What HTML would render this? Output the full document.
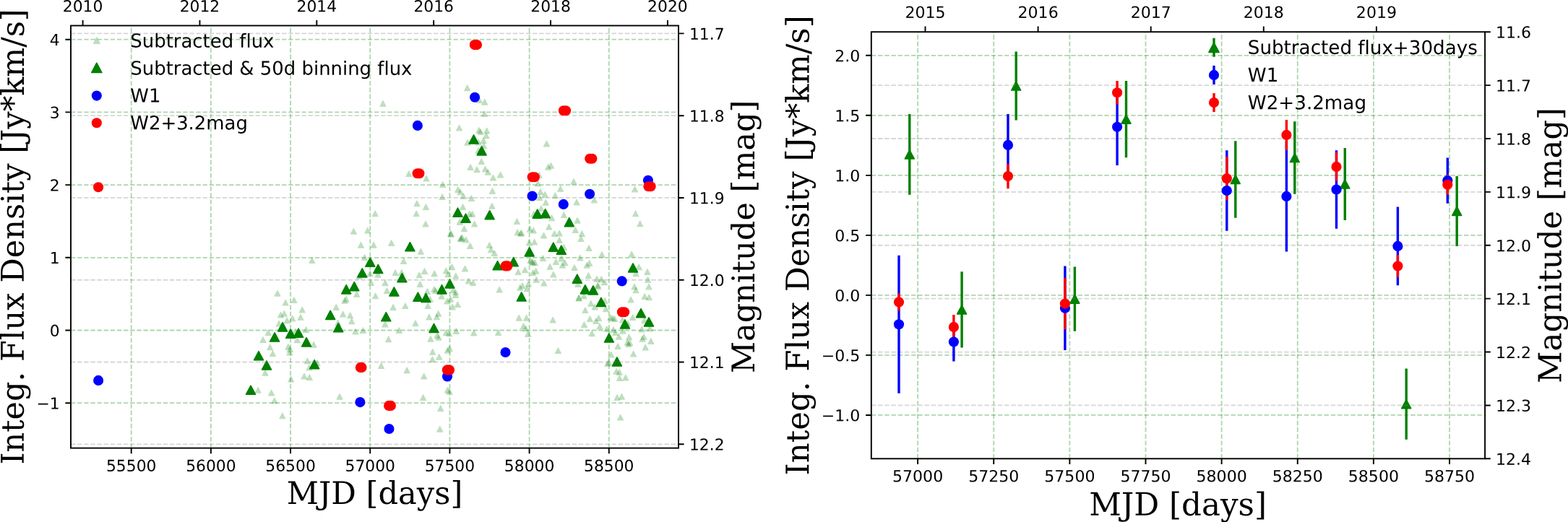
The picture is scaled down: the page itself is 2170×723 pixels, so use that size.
<!DOCTYPE html>
<html lang="en"><head><meta charset="utf-8"><title>Integrated flux density and WISE magnitude light curves</title>
<style>html,body{margin:0;padding:0;background:#fff;overflow:hidden}svg{display:block}text{white-space:pre;text-rendering:geometricPrecision;font-variant-ligatures:none;font-feature-settings:"liga" 0,"clig" 0}</style></head>
<body><svg width="2170" height="723" viewBox="0 0 2170 723">
<rect width="2170" height="723" fill="#fff"/>
<g class="panel" id="left">
<path class="grid-x" d="M181.7 620.6V35.5M291.88 620.6V35.5M402.06 620.6V35.5M512.24 620.6V35.5M622.42 620.6V35.5M732.6 620.6V35.5M842.78 620.6V35.5" fill="none" stroke-width="1.8" stroke-dasharray="6.373 2.756" stroke="#008000" stroke-opacity="0.32"/>
<path class="grid-y" d="M98 54.7H939M98 155.4H939M98 256.1H939M98 356.8H939M98 457.5H939M98 558.2H939" fill="none" stroke-width="1.8" stroke-dasharray="6.373 2.756" stroke="#008000" stroke-opacity="0.32"/>
<g class="flux" fill="#008000" stroke="#008000" stroke-width="1.2" stroke-linejoin="round"><path d="M499.5 335.6L503.45 343.2H495.55Z" opacity="0.25"/><path d="M517.1 335.6L521.05 343.2H513.15Z" opacity="0.25"/><path d="M541.7 332.8L545.65 340.4H537.75Z" opacity="0.25"/><path d="M582.4 344.6L586.35 352.2H578.45Z" opacity="0.25"/><path d="M504.6 352.7L508.55 360.3H500.65Z" opacity="0.25"/><path d="M431.8 356.9L435.75 364.5H427.85Z" opacity="0.25"/><path d="M558.6 357.7L562.55 365.3H554.65Z" opacity="0.25"/><path d="M587.6 371.8L591.55 379.4H583.65Z" opacity="0.25"/><path d="M547.1 373.9L551.05 381.5H543.15Z" opacity="0.25"/><path d="M555.8 373.6L559.75 381.2H551.85Z" opacity="0.25"/><path d="M580.3 377.1L584.25 384.7H576.35Z" opacity="0.25"/><path d="M601.2 375L605.15 382.6H597.25Z" opacity="0.25"/><path d="M617.4 371.1L621.35 378.7H613.45Z" opacity="0.25"/><path d="M512 375L515.95 382.6H508.05Z" opacity="0.25"/><path d="M523 376.6L526.95 384.2H519.05Z" opacity="0.25"/><path d="M497 378.7L500.95 386.3H493.05Z" opacity="0.25"/><path d="M513.6 387.7L517.55 395.3H509.65Z" opacity="0.25"/><path d="M533 388L536.95 395.6H529.05Z" opacity="0.25"/><path d="M581.4 389.8L585.35 397.4H577.45Z" opacity="0.25"/><path d="M535.5 398.8L539.45 406.4H531.55Z" opacity="0.25"/><path d="M591.4 399.7L595.35 407.3H587.45Z" opacity="0.25"/><path d="M600.8 396.8L604.75 404.4H596.85Z" opacity="0.25"/><path d="M602.8 398.9L606.75 406.5H598.85Z" opacity="0.25"/><path d="M493.6 403.6L497.55 411.2H489.65Z" opacity="0.25"/><path d="M519.6 406.1L523.55 413.7H515.65Z" opacity="0.25"/><path d="M384 402.5L387.95 410.1H380.05Z" opacity="0.25"/><path d="M479.1 410.5L483.05 418.1H475.15Z" opacity="0.25"/><path d="M477 412.6L480.95 420.2H473.05Z" opacity="0.25"/><path d="M406.9 411.9L410.85 419.5H402.95Z" opacity="0.25"/><path d="M395.1 415.4L399.05 423H391.15Z" opacity="0.25"/><path d="M611.1 406.4L615.05 414H607.15Z" opacity="0.25"/><path d="M595.2 410.5L599.15 418.1H591.25Z" opacity="0.25"/><path d="M618.8 413.3L622.75 420.9H614.85Z" opacity="0.25"/><path d="M465.2 421.7L469.15 429.3H461.25Z" opacity="0.25"/><path d="M544.1 421.7L548.05 429.3H540.15Z" opacity="0.25"/><path d="M560.9 419.9L564.85 427.5H556.95Z" opacity="0.25"/><path d="M592.2 419.9L596.15 427.5H588.25Z" opacity="0.25"/><path d="M418.2 425.2L422.15 432.8H414.25Z" opacity="0.25"/><path d="M388.5 432.4L392.45 440H384.55Z" opacity="0.25"/><path d="M393.3 430.6L397.25 438.2H389.35Z" opacity="0.25"/><path d="M474.6 431.4L478.55 439H470.65Z" opacity="0.25"/><path d="M484.6 433.1L488.55 440.7H480.65Z" opacity="0.25"/><path d="M606.7 430.6L610.65 438.2H602.75Z" opacity="0.25"/><path d="M604.5 435.1L608.45 442.7H600.55Z" opacity="0.25"/><path d="M593.9 435.4L597.85 443H589.95Z" opacity="0.25"/><path d="M415.9 435.6L419.85 443.2H411.95Z" opacity="0.25"/><path d="M404.8 437.2L408.75 444.8H400.85Z" opacity="0.25"/><path d="M397.2 440L401.15 447.6H393.25Z" opacity="0.25"/><path d="M486.7 441.1L490.65 448.7H482.75Z" opacity="0.25"/><path d="M386.1 444.4L390.05 452H382.15Z" opacity="0.25"/><path d="M467.7 443.4L471.65 451H463.75Z" opacity="0.25"/><path d="M574.9 443.9L578.85 451.5H570.95Z" opacity="0.25"/><path d="M533 445.2L536.95 452.8H529.05Z" opacity="0.25"/><path d="M423.5 452.7L427.45 460.3H419.55Z" opacity="0.25"/><path d="M408.5 455.2L412.45 462.8H404.55Z" opacity="0.25"/><path d="M491.9 455.2L495.85 462.8H487.95Z" opacity="0.25"/><path d="M502.3 453.8L506.25 461.4H498.35Z" opacity="0.25"/><path d="M552.4 453.8L556.35 461.4H548.45Z" opacity="0.25"/><path d="M371.2 456.9L375.15 464.5H367.25Z" opacity="0.25"/><path d="M617.4 456.9L621.35 464.5H613.45Z" opacity="0.25"/><path d="M604.9 460.7L608.85 468.3H600.95Z" opacity="0.25"/><path d="M607 463.5L610.95 471.1H603.05Z" opacity="0.25"/><path d="M595.9 465.6L599.85 473.2H591.95Z" opacity="0.25"/><path d="M364 466.7L367.95 474.3H360.05Z" opacity="0.25"/><path d="M411.3 467L415.25 474.6H407.35Z" opacity="0.25"/><path d="M537.6 466L541.55 473.6H533.65Z" opacity="0.25"/><path d="M434.1 473.5L438.05 481.1H430.15Z" opacity="0.25"/><path d="M373.7 477.1L377.65 484.7H369.75Z" opacity="0.25"/><path d="M398.8 476.6L402.75 484.2H394.85Z" opacity="0.25"/><path d="M401.3 479.8L405.25 487.4H397.35Z" opacity="0.25"/><path d="M400.9 484.2L404.85 491.8H396.95Z" opacity="0.25"/><path d="M377.4 485.9L381.35 493.5H373.45Z" opacity="0.25"/><path d="M598.7 483.6L602.65 491.2H594.75Z" opacity="0.25"/><path d="M619.4 481.5L623.35 489.1H615.45Z" opacity="0.25"/><path d="M607.7 490.5L611.65 498.1H603.75Z" opacity="0.25"/><path d="M598.4 493.9L602.35 501.5H594.45Z" opacity="0.25"/><path d="M425.5 496L429.45 503.6H421.55Z" opacity="0.25"/><path d="M438.9 498.8L442.85 506.4H434.95Z" opacity="0.25"/><path d="M427.9 505.3L431.85 512.9H423.95Z" opacity="0.25"/><path d="M527.5 502.9L531.45 510.5H523.55Z" opacity="0.25"/><path d="M367 512.6L370.95 520.2H363.05Z" opacity="0.25"/><path d="M563.2 509.1L567.15 516.7H559.25Z" opacity="0.25"/><path d="M421 517.4L424.95 525H417.05Z" opacity="0.25"/><path d="M428.3 518.8L432.25 526.4H424.35Z" opacity="0.25"/><path d="M586.7 517.4L590.65 525H582.75Z" opacity="0.25"/><path d="M402.7 521.3L406.65 528.9H398.75Z" opacity="0.25"/><path d="M357.1 536.5L361.05 544.1H353.15Z" opacity="0.25"/><path d="M375.6 540.3L379.55 547.9H371.65Z" opacity="0.25"/><path d="M379.8 551.1L383.75 558.7H375.85Z" opacity="0.25"/><path d="M470.1 545.5L474.05 553.1H466.15Z" opacity="0.25"/><path d="M390.8 572.1L394.75 579.7H386.85Z" opacity="0.25"/><path d="M585.6 546.9L589.55 554.5H581.65Z" opacity="0.25"/><path d="M609.8 561.7L613.75 569.3H605.85Z" opacity="0.25"/><path d="M608.8 590.5L612.75 598.1H604.85Z" opacity="0.25"/><path d="M619.4 536.5L623.35 544.1H615.45Z" opacity="0.25"/><path d="M565.8 236.9L569.75 244.5H561.85Z" opacity="0.25"/><path d="M590 243.4L593.95 251H586.05Z" opacity="0.25"/><path d="M612.8 251.7L616.75 259.3H608.85Z" opacity="0.25"/><path d="M612.1 268.8L616.05 276.4H608.15Z" opacity="0.25"/><path d="M577 278L580.95 285.6H573.05Z" opacity="0.25"/><path d="M589.4 282.9L593.35 290.5H585.45Z" opacity="0.25"/><path d="M576.2 292.1L580.15 299.7H572.25Z" opacity="0.25"/><path d="M519.2 292.1L523.15 299.7H515.25Z" opacity="0.25"/><path d="M589 306.4L592.95 314H585.05Z" opacity="0.25"/><path d="M489.4 316.5L493.35 324.1H485.45Z" opacity="0.25"/><path d="M508.8 315.4L512.75 323H504.85Z" opacity="0.25"/><path d="M530 139.6L533.95 147.2H526.05Z" opacity="0.25"/><path d="M646.7 118L650.65 125.6H642.75Z" opacity="0.25"/><path d="M670.8 137.5L674.75 145.1H666.85Z" opacity="0.25"/><path d="M663.2 134.9L667.15 142.5H659.25Z" opacity="0.25"/><path d="M670.5 153.8L674.45 161.4H666.55Z" opacity="0.25"/><path d="M635.5 173.2L639.45 180.8H631.55Z" opacity="0.25"/><path d="M662.9 176.6L666.85 184.2H658.95Z" opacity="0.25"/><path d="M665 178.7L668.95 186.3H661.05Z" opacity="0.25"/><path d="M673.7 177.3L677.65 184.9H669.75Z" opacity="0.25"/><path d="M673 184L676.95 191.6H669.05Z" opacity="0.25"/><path d="M669.1 190.9L673.05 198.5H665.15Z" opacity="0.25"/><path d="M647 193.5L650.95 201.1H643.05Z" opacity="0.25"/><path d="M662.2 193.2L666.15 200.8H658.25Z" opacity="0.25"/><path d="M669.5 198.1L673.45 205.7H665.55Z" opacity="0.25"/><path d="M662.2 204.7L666.15 212.3H658.25Z" opacity="0.25"/><path d="M756.5 195.3L760.45 202.9H752.55Z" opacity="0.25"/><path d="M666.3 219.7L670.25 227.3H662.35Z" opacity="0.25"/><path d="M651.1 227.8L655.05 235.4H647.15Z" opacity="0.25"/><path d="M660.1 231L664.05 238.6H656.15Z" opacity="0.25"/><path d="M671.5 230.3L675.45 237.9H667.55Z" opacity="0.25"/><path d="M675.3 234.5L679.25 242.1H671.35Z" opacity="0.25"/><path d="M682.5 242.3L686.45 249.9H678.55Z" opacity="0.25"/><path d="M692.6 238.2L696.55 245.8H688.65Z" opacity="0.25"/><path d="M758.7 227.5L762.65 235.1H754.75Z" opacity="0.25"/><path d="M762.5 225.5L766.45 233.1H758.55Z" opacity="0.25"/><path d="M746.1 238.6L750.05 246.2H742.15Z" opacity="0.25"/><path d="M744.5 250.4L748.45 258H740.55Z" opacity="0.25"/><path d="M794 247.6L797.95 255.2H790.05Z" opacity="0.25"/><path d="M633.8 258.7L637.75 266.3H629.85Z" opacity="0.25"/><path d="M636.9 262.1L640.85 269.7H632.95Z" opacity="0.25"/><path d="M641.4 267.7L645.35 275.3H637.45Z" opacity="0.25"/><path d="M652.5 270.7L656.45 278.3H648.55Z" opacity="0.25"/><path d="M681.5 260.7L685.45 268.3H677.55Z" opacity="0.25"/><path d="M775.6 257.6L779.55 265.2H771.65Z" opacity="0.25"/><path d="M747.9 261.7L751.85 269.3H743.95Z" opacity="0.25"/><path d="M754.2 265.6L758.15 273.2H750.25Z" opacity="0.25"/><path d="M768.3 267L772.25 274.6H764.35Z" opacity="0.25"/><path d="M746.6 269.7L750.55 277.3H742.65Z" opacity="0.25"/><path d="M878.6 258.2L882.55 265.8H874.65Z" opacity="0.25"/><path d="M755.3 276.6L759.25 284.2H751.35Z" opacity="0.25"/><path d="M798.1 276.2L802.05 283.8H794.15Z" opacity="0.25"/><path d="M822.4 273.2L826.35 280.8H818.45Z" opacity="0.25"/><path d="M640.5 282.9L644.45 290.5H636.55Z" opacity="0.25"/><path d="M680.9 281.5L684.85 289.1H676.95Z" opacity="0.25"/><path d="M748.9 284.9L752.85 292.5H744.95Z" opacity="0.25"/><path d="M649.7 292.3L653.65 299.9H645.75Z" opacity="0.25"/><path d="M653.6 292.5L657.55 300.1H649.65Z" opacity="0.25"/><path d="M738.9 292.5L742.85 300.1H734.95Z" opacity="0.25"/><path d="M780.4 293.9L784.35 301.5H776.45Z" opacity="0.25"/><path d="M879.6 292.1L883.55 299.7H875.65Z" opacity="0.25"/><path d="M763.6 298.1L767.55 305.7H759.65Z" opacity="0.25"/><path d="M715.4 302.9L719.35 310.5H711.45Z" opacity="0.25"/><path d="M799.1 301.5L803.05 309.1H795.15Z" opacity="0.25"/><path d="M636.3 303.6L640.25 311.2H632.35Z" opacity="0.25"/><path d="M656.7 306.4L660.65 314H652.75Z" opacity="0.25"/><path d="M885.8 306.1L889.75 313.7H881.85Z" opacity="0.25"/><path d="M759.7 310.3L763.65 317.9H755.75Z" opacity="0.25"/><path d="M642.4 313L646.35 320.6H638.45Z" opacity="0.25"/><path d="M733.4 313.6L737.35 321.2H729.45Z" opacity="0.25"/><path d="M738.3 315.4L742.25 323H734.35Z" opacity="0.25"/><path d="M796.3 314.7L800.25 322.3H792.35Z" opacity="0.25"/><path d="M716.1 318.1L720.05 325.7H712.15Z" opacity="0.25"/><path d="M721.7 318.8L725.65 326.4H717.75Z" opacity="0.25"/><path d="M624.1 320.6L628.05 328.2H620.15Z" opacity="0.25"/><path d="M639.4 325.1L643.35 332.7H635.45Z" opacity="0.25"/><path d="M637.3 327L641.25 334.6H633.35Z" opacity="0.25"/><path d="M644.9 328.2L648.85 335.8H640.95Z" opacity="0.25"/><path d="M650.7 336.8L654.65 344.4H646.75Z" opacity="0.25"/><path d="M677.4 335.8L681.35 343.4H673.45Z" opacity="0.25"/><path d="M679.5 342.1L683.45 349.7H675.55Z" opacity="0.25"/><path d="M684.3 346.9L688.25 354.5H680.35Z" opacity="0.25"/><path d="M752.5 322.3L756.45 329.9H748.55Z" opacity="0.25"/><path d="M767.3 319.9L771.25 327.5H763.35Z" opacity="0.25"/><path d="M774.2 319.2L778.15 326.8H770.25Z" opacity="0.25"/><path d="M805.3 319.9L809.25 327.5H801.35Z" opacity="0.25"/><path d="M804 326.9L807.95 334.5H800.05Z" opacity="0.25"/><path d="M774.2 328.9L778.15 336.5H770.25Z" opacity="0.25"/><path d="M732.3 332.4L736.25 340H728.35Z" opacity="0.25"/><path d="M739.6 331.4L743.55 339H735.65Z" opacity="0.25"/><path d="M780.4 338.6L784.35 346.2H776.45Z" opacity="0.25"/><path d="M815 339.7L818.95 347.3H811.05Z" opacity="0.25"/><path d="M833 348.7L836.95 356.3H829.05Z" opacity="0.25"/><path d="M874.2 348.3L878.15 355.9H870.25Z" opacity="0.25"/><path d="M751.4 353.8L755.35 361.4H747.45Z" opacity="0.25"/><path d="M802.8 353.4L806.75 361H798.85Z" opacity="0.25"/><path d="M777 354.2L780.95 361.8H773.05Z" opacity="0.25"/><path d="M769.4 358.7L773.35 366.3H765.45Z" opacity="0.25"/><path d="M734.1 357L738.05 364.6H730.15Z" opacity="0.25"/><path d="M737.6 359.4L741.55 367H733.65Z" opacity="0.25"/><path d="M740.3 360L744.25 367.6H736.35Z" opacity="0.25"/><path d="M781.8 360L785.75 367.6H777.85Z" opacity="0.25"/><path d="M778.4 363.5L782.35 371.1H774.45Z" opacity="0.25"/><path d="M815.7 360.7L819.65 368.3H811.75Z" opacity="0.25"/><path d="M812.3 363.5L816.25 371.1H808.35Z" opacity="0.25"/><path d="M761.1 365.6L765.05 373.2H757.15Z" opacity="0.25"/><path d="M795 366.7L798.95 374.3H791.05Z" opacity="0.25"/><path d="M625.5 366L629.45 373.6H621.55Z" opacity="0.25"/><path d="M643.5 368.3L647.45 375.9H639.55Z" opacity="0.25"/><path d="M726.5 370L730.45 377.6H722.55Z" opacity="0.25"/><path d="M717.1 372.9L721.05 380.5H713.15Z" opacity="0.25"/><path d="M741.7 371.5L745.65 379.1H737.75Z" opacity="0.25"/><path d="M737.6 373.9L741.55 381.5H733.65Z" opacity="0.25"/><path d="M765.9 376.2L769.85 383.8H761.95Z" opacity="0.25"/><path d="M884.2 366L888.15 373.6H880.25Z" opacity="0.25"/><path d="M895.9 372.9L899.85 380.5H891.95Z" opacity="0.25"/><path d="M880 375L883.95 382.6H876.05Z" opacity="0.25"/><path d="M814.3 377.7L818.25 385.3H810.35Z" opacity="0.25"/><path d="M630.8 378.4L634.75 386H626.85Z" opacity="0.25"/><path d="M620 376L623.95 383.6H616.05Z" opacity="0.25"/><path d="M742.4 383.6L746.35 391.2H738.45Z" opacity="0.25"/><path d="M826.1 382.6L830.05 390.2H822.15Z" opacity="0.25"/><path d="M832.3 382.9L836.25 390.5H828.35Z" opacity="0.25"/><path d="M896.6 383.6L900.55 391.2H892.65Z" opacity="0.25"/><path d="M836.5 387L840.45 394.6H832.55Z" opacity="0.25"/><path d="M648.4 385.2L652.35 392.8H644.45Z" opacity="0.25"/><path d="M654.6 387.7L658.55 395.3H650.65Z" opacity="0.25"/><path d="M752.8 388.4L756.75 396H748.85Z" opacity="0.25"/><path d="M731.3 389.4L735.25 397H727.35Z" opacity="0.25"/><path d="M723 391.9L726.95 399.5H719.05Z" opacity="0.25"/><path d="M719.6 394.6L723.55 402.2H715.65Z" opacity="0.25"/><path d="M729.3 396L733.25 403.6H725.35Z" opacity="0.25"/><path d="M827.5 391.2L831.45 398.8H823.55Z" opacity="0.25"/><path d="M799.8 389.8L803.75 397.4H795.85Z" opacity="0.25"/><path d="M878 393.2L881.95 400.8H874.05Z" opacity="0.25"/><path d="M898 393.2L901.95 400.8H894.05Z" opacity="0.25"/><path d="M880 398.1L883.95 405.7H876.05Z" opacity="0.25"/><path d="M691.2 397.4L695.15 405H687.25Z" opacity="0.25"/><path d="M630.4 400.8L634.35 408.4H626.45Z" opacity="0.25"/><path d="M626.9 398.1L630.85 405.7H622.95Z" opacity="0.25"/><path d="M630.4 404.7L634.35 412.3H626.45Z" opacity="0.25"/><path d="M623.5 410.5L627.45 418.1H619.55Z" opacity="0.25"/><path d="M801.2 408.5L805.15 416.1H797.25Z" opacity="0.25"/><path d="M808.1 406.1L812.05 413.7H804.15Z" opacity="0.25"/><path d="M837.2 412.6L841.15 420.2H833.25Z" opacity="0.25"/><path d="M873.1 411.2L877.05 418.8H869.15Z" opacity="0.25"/><path d="M892.2 406.7L896.15 414.3H888.25Z" opacity="0.25"/><path d="M898.3 408L902.25 415.6H894.35Z" opacity="0.25"/><path d="M626.2 421.3L630.15 428.9H622.25Z" opacity="0.25"/><path d="M633.4 417.9L637.35 425.5H629.45Z" opacity="0.25"/><path d="M718.2 436.5L722.15 444.1H714.25Z" opacity="0.25"/><path d="M728.6 436.5L732.55 444.1H724.65Z" opacity="0.25"/><path d="M724.4 447.9L728.35 455.5H720.45Z" opacity="0.25"/><path d="M727.6 451.1L731.55 458.7H723.65Z" opacity="0.25"/><path d="M730.7 458.7L734.65 466.3H726.75Z" opacity="0.25"/><path d="M631.3 454.8L635.25 462.4H627.35Z" opacity="0.25"/><path d="M655.7 457.3L659.65 464.9H651.75Z" opacity="0.25"/><path d="M689.6 456.9L693.55 464.5H685.65Z" opacity="0.25"/><path d="M621.4 458L625.35 465.6H617.45Z" opacity="0.25"/><path d="M622.1 478.7L626.05 486.3H618.15Z" opacity="0.25"/><path d="M765.2 439.3L769.15 446.9H761.25Z" opacity="0.25"/><path d="M772.4 481.8L776.35 489.4H768.45Z" opacity="0.25"/><path d="M809.9 425.9L813.85 433.5H805.95Z" opacity="0.25"/><path d="M823.3 421.3L827.25 428.9H819.35Z" opacity="0.25"/><path d="M817.8 416.5L821.75 424.1H813.85Z" opacity="0.25"/><path d="M838.5 424.1L842.45 431.7H834.55Z" opacity="0.25"/><path d="M816.4 437.9L820.35 445.5H812.45Z" opacity="0.25"/><path d="M828.6 436.8L832.55 444.4H824.65Z" opacity="0.25"/><path d="M824.7 440.7L828.65 448.3H820.75Z" opacity="0.25"/><path d="M808.5 445.8L812.45 453.4H804.55Z" opacity="0.25"/><path d="M830 448.3L833.95 455.9H826.05Z" opacity="0.25"/><path d="M839.9 451.7L843.85 459.3H835.95Z" opacity="0.25"/><path d="M819.2 458L823.15 465.6H815.25Z" opacity="0.25"/><path d="M844.8 435.8L848.75 443.4H840.85Z" opacity="0.25"/><path d="M847.9 436.9L851.85 444.5H843.95Z" opacity="0.25"/><path d="M850.7 437.9L854.65 445.5H846.75Z" opacity="0.25"/><path d="M861.4 439.3L865.35 446.9H857.45Z" opacity="0.25"/><path d="M875.6 435.8L879.55 443.4H871.65Z" opacity="0.25"/><path d="M869 444.1L872.95 451.7H865.05Z" opacity="0.25"/><path d="M848.9 452.7L852.85 460.3H844.95Z" opacity="0.25"/><path d="M851.7 456.9L855.65 464.5H847.75Z" opacity="0.25"/><path d="M856.5 462.5L860.45 470.1H852.55Z" opacity="0.25"/><path d="M862 454.5L865.95 462.1H858.05Z" opacity="0.25"/><path d="M870.6 463.1L874.55 470.7H866.65Z" opacity="0.25"/><path d="M888.3 452.2L892.25 459.8H884.35Z" opacity="0.25"/><path d="M899.4 451.1L903.35 458.7H895.45Z" opacity="0.25"/><path d="M891.8 439.7L895.75 447.3H887.85Z" opacity="0.25"/><path d="M891.1 462.8L895.05 470.4H887.15Z" opacity="0.25"/><path d="M889 465.6L892.95 473.2H885.05Z" opacity="0.25"/><path d="M900.8 468.8L904.75 476.4H896.85Z" opacity="0.25"/><path d="M868.3 470.4L872.25 478H864.35Z" opacity="0.25"/><path d="M871.7 471.1L875.65 478.7H867.75Z" opacity="0.25"/><path d="M869.7 472.9L873.65 480.5H865.75Z" opacity="0.25"/><path d="M855.1 475.7L859.05 483.3H851.15Z" opacity="0.25"/><path d="M893.2 477.3L897.15 484.9H889.25Z" opacity="0.25"/><path d="M845.7 487.3L849.65 494.9H841.75Z" opacity="0.25"/><path d="M876.6 486.3L880.55 493.9H872.65Z" opacity="0.25"/><path d="M842.7 498.1L846.65 505.7H838.75Z" opacity="0.25"/><path d="M841 499.9L844.95 507.5H837.05Z" opacity="0.25"/><path d="M853.1 510.5L857.05 518.1H849.15Z" opacity="0.25"/><path d="M857.2 511.6L861.15 519.2H853.25Z" opacity="0.25"/><path d="M857.5 519.9L861.45 527.5H853.55Z" opacity="0.25"/><path d="M865.8 519.2L869.75 526.8H861.85Z" opacity="0.25"/><path d="M854 546.9L857.95 554.5H850.05Z" opacity="0.25"/><path d="M860.4 545.5L864.35 553.1H856.45Z" opacity="0.25"/><path d="M858.6 574.2L862.55 581.8H854.65Z" opacity="0.25"/><path d="M622.1 538.6L626.05 546.2H618.15Z" opacity="0.25"/><path d="M827.3 393L831.25 400.6H823.35Z" opacity="0.25"/><path d="M801.1 409.4L805.05 417H797.15Z" opacity="0.25"/><path d="M623.7 319.5L627.65 327.1H619.75Z" opacity="0.25"/><path d="M638.6 326.2L642.55 333.8H634.65Z" opacity="0.25"/><path d="M720.4 319.5L724.35 327.1H716.45Z" opacity="0.25"/><path d="M736.1 359.3L740.05 366.9H732.15Z" opacity="0.25"/></g>
<path class="binned" d="M347 534.15L353.45 546.25H340.55ZM358 486.55L364.45 498.65H351.55ZM369 499.85L375.45 511.95H362.55ZM380.1 460.85L386.55 472.95H373.65ZM391.1 446.75L397.55 458.85H384.65ZM402.1 456.15L408.55 468.25H395.65ZM413.1 455.05L419.55 467.15H406.65ZM424.1 467.75L430.55 479.85H417.65ZM435.2 498.55L441.65 510.65H428.75ZM457.2 430.25L463.65 442.35H450.75ZM468.2 447.65L474.65 459.75H461.75ZM479.2 394.75L485.65 406.85H472.75ZM490.3 390.55L496.75 402.65H483.85ZM501.3 371.85L507.75 383.95H494.85ZM512.3 357.15L518.75 369.25H505.85ZM523.3 366.35L529.75 378.45H516.85ZM534.3 432.65L540.75 444.75H527.85ZM545.4 397.85L551.85 409.95H538.95ZM556.4 378.55L562.85 390.65H549.95ZM567.4 335.65L573.85 347.75H560.95ZM578.4 405.05L584.85 417.15H571.95ZM589.4 406.45L595.85 418.55H582.95ZM600.5 448.35L606.95 460.45H594.05ZM611.5 394.75L617.95 406.85H605.05ZM622.5 386.95L628.95 399.05H616.05ZM633.5 288.05L639.95 300.15H627.05ZM644.5 296.15L650.95 308.25H638.05ZM655.6 186.85L662.05 198.95H649.15ZM666.6 202.75L673.05 214.85H660.15ZM677.6 291.65L684.05 303.75H671.15ZM688.6 361.65L695.05 373.75H682.15ZM710.7 356.55L717.15 368.65H704.25ZM721.7 404.95L728.15 417.05H715.25ZM732.7 342.75L739.15 354.85H726.25ZM743.7 290.05L750.15 302.15H737.25ZM754.7 289.65L761.15 301.75H748.25ZM765.8 336.05L772.25 348.15H759.35ZM776.8 340.05L783.25 352.15H770.35ZM787.8 301.65L794.25 313.75H781.35ZM798.8 380.05L805.25 392.15H792.35ZM809.8 394.75L816.25 406.85H803.35ZM820.9 395.85L827.35 407.95H814.45ZM831.9 412.35L838.35 424.45H825.45ZM842.9 461.95L849.35 474.05H836.45ZM853.9 494.85L860.35 506.95H847.45ZM864.9 442.85L871.35 454.95H858.45ZM876 364.85L882.45 376.95H869.55ZM887 427.65L893.45 439.75H880.55ZM898 439.85L904.45 451.95H891.55Z" fill="#008000" stroke="#008000" stroke-width="1.6" stroke-linejoin="round"/>
<path class="grid-mag" d="M98 46.4H939M98 160.18H939M98 273.96H939M98 387.74H939M98 501.52H939M98 615.3H939" fill="none" stroke-width="1.8" stroke-dasharray="6.373 2.756" stroke="#808080" stroke-opacity="0.32"/>
<g class="w1" fill="#0000ff"><circle cx="136.1" cy="526.9" r="7.05"/><circle cx="498.4" cy="557.1" r="7.05"/><circle cx="538.5" cy="594" r="7.05"/><circle cx="577.9" cy="173.9" r="7.05"/><circle cx="619" cy="521.5" r="7.05"/><circle cx="657.1" cy="134.8" r="7.05"/><circle cx="699.5" cy="488" r="7.05"/><circle cx="736.6" cy="271.5" r="7.05"/><circle cx="779.8" cy="282.9" r="7.05"/><circle cx="816.1" cy="268.7" r="7.05"/><circle cx="860.7" cy="389.4" r="7.05"/><circle cx="896.9" cy="249.7" r="7.05"/></g>
<g class="w2" fill="#ff0000"><circle cx="136.1" cy="259.2" r="7.05"/><circle cx="498.85" cy="508.9" r="7.05"/><circle cx="500.55" cy="508.9" r="7.05"/><circle cx="538.1" cy="561.9" r="7.05"/><circle cx="540.9" cy="561.9" r="7.05"/><circle cx="577.6" cy="240.3" r="7.05"/><circle cx="580.4" cy="240.3" r="7.05"/><circle cx="618.8" cy="512.4" r="7.05"/><circle cx="622" cy="512.4" r="7.05"/><circle cx="656.8" cy="62.1" r="7.05"/><circle cx="660" cy="62.1" r="7.05"/><circle cx="699.5" cy="368.4" r="7.05"/><circle cx="702.3" cy="368.4" r="7.05"/><circle cx="736.7" cy="245.2" r="7.05"/><circle cx="739.9" cy="245.2" r="7.05"/><circle cx="779.9" cy="153.2" r="7.05"/><circle cx="783.1" cy="153.2" r="7.05"/><circle cx="816.2" cy="219.8" r="7.05"/><circle cx="819.4" cy="219.8" r="7.05"/><circle cx="860.9" cy="432.2" r="7.05"/><circle cx="864.1" cy="432.2" r="7.05"/><circle cx="897.4" cy="258.3" r="7.05"/><circle cx="900.6" cy="258.3" r="7.05"/></g>
<rect x="98" y="35.5" width="841" height="585.1" fill="none" stroke="#000" stroke-width="1.9"/>
<path class="ticks" d="M181.7 620.6v7.6M291.88 620.6v7.6M402.06 620.6v7.6M512.24 620.6v7.6M622.42 620.6v7.6M732.6 620.6v7.6M842.78 620.6v7.6M114.6 35.5v-7.6M276.46 35.5v-7.6M438.32 35.5v-7.6M600.18 35.5v-7.6M762.04 35.5v-7.6M923.9 35.5v-7.6M98 54.7h-7.6M98 155.4h-7.6M98 256.1h-7.6M98 356.8h-7.6M98 457.5h-7.6M98 558.2h-7.6M939 46.4h7.6M939 160.18h7.6M939 273.96h7.6M939 387.74h7.6M939 501.52h7.6M939 615.3h7.6" stroke="#000" stroke-width="1.9" fill="none"/>
<g class="ticklabels" font-family='"DejaVu Sans", "Liberation Sans", sans-serif' font-size="21.85" fill="#000">
<text transform="translate(181.7 652.65) rotate(0.03)" text-anchor="middle">55500</text>
<text transform="translate(291.88 652.65) rotate(0.03)" text-anchor="middle">56000</text>
<text transform="translate(402.06 652.65) rotate(0.03)" text-anchor="middle">56500</text>
<text transform="translate(512.24 652.65) rotate(0.03)" text-anchor="middle">57000</text>
<text transform="translate(622.42 652.65) rotate(0.03)" text-anchor="middle">57500</text>
<text transform="translate(732.6 652.65) rotate(0.03)" text-anchor="middle">58000</text>
<text transform="translate(842.78 652.65) rotate(0.03)" text-anchor="middle">58500</text>
<text transform="translate(114.6 16.25) rotate(0.03)" text-anchor="middle">2010</text>
<text transform="translate(276.46 16.25) rotate(0.03)" text-anchor="middle">2012</text>
<text transform="translate(438.32 16.25) rotate(0.03)" text-anchor="middle">2014</text>
<text transform="translate(600.18 16.25) rotate(0.03)" text-anchor="middle">2016</text>
<text transform="translate(762.04 16.25) rotate(0.03)" text-anchor="middle">2018</text>
<text transform="translate(923.9 16.25) rotate(0.03)" text-anchor="middle">2020</text>
<text transform="translate(82.6 63) rotate(0.03)" text-anchor="end">4</text>
<text transform="translate(82.6 163.7) rotate(0.03)" text-anchor="end">3</text>
<text transform="translate(82.6 264.4) rotate(0.03)" text-anchor="end">2</text>
<text transform="translate(82.6 365.1) rotate(0.03)" text-anchor="end">1</text>
<text transform="translate(82.6 465.8) rotate(0.03)" text-anchor="end">0</text>
<text transform="translate(82.6 566.5) rotate(0.03)" text-anchor="end">−1</text>
<text transform="translate(953.9 54.7) rotate(0.03)" text-anchor="start">11.7</text>
<text transform="translate(953.9 168.48) rotate(0.03)" text-anchor="start">11.8</text>
<text transform="translate(953.9 282.26) rotate(0.03)" text-anchor="start">11.9</text>
<text transform="translate(953.9 396.04) rotate(0.03)" text-anchor="start">12.0</text>
<text transform="translate(953.9 509.82) rotate(0.03)" text-anchor="start">12.1</text>
<text transform="translate(953.9 623.6) rotate(0.03)" text-anchor="start">12.2</text>
</g>
<g class="axislabels" font-family='"DejaVu Serif", "Liberation Serif", serif' font-size="43.4" fill="#000" text-anchor="middle">
<text transform="translate(518.5 698) rotate(0.03) scale(0.995 1)">MJD [days]</text>
<text transform="translate(32.8 328) rotate(-89.97) scale(0.9927 1)">Integ. Flux Density [Jy*km/s]</text>
<text transform="translate(1044 327.9) rotate(-89.97) scale(0.9927 1)">Magnitude [mag]</text>
</g>
<g class="legend"><g fill="#008000" stroke="#008000" stroke-width="1.2" stroke-linejoin="round"><path d="M133.8 51.86L138.21 60.34H129.4Z" opacity="0.25"/></g>
<path d="M133.8 87.25L140.9 100.56H126.71Z" fill="#008000" stroke="#008000" stroke-width="1.6" stroke-linejoin="round"/>
<circle cx="133.8" cy="132.6" r="7.05" fill="#0000ff"/>
<circle cx="133.8" cy="170.3" r="7.05" fill="#ff0000"/>
<g font-family='"DejaVu Sans", "Liberation Sans", sans-serif' font-size="26.05" fill="#000">
<text transform="translate(180.3 65.6) rotate(0.03) scale(0.995 1)">Subtracted flux</text>
<text transform="translate(180.3 103.5) rotate(0.03) scale(0.995 1)">Subtracted &amp; 50d binning flux</text>
<text transform="translate(180.3 141.4) rotate(0.03) scale(0.995 1)">W1</text>
<text transform="translate(180.3 179.3) rotate(0.03) scale(0.995 1)">W2+3.2mag</text>
</g></g>
</g>
<g class="panel" id="right">
<path class="grid-x" d="M1270.1 635.3V44.2M1375.23 635.3V44.2M1480.36 635.3V44.2M1585.49 635.3V44.2M1690.62 635.3V44.2M1795.75 635.3V44.2M1900.88 635.3V44.2M2006.01 635.3V44.2" fill="none" stroke-width="1.82" stroke-dasharray="6.434 2.782" stroke="#008000" stroke-opacity="0.32"/>
<path class="grid-y" d="M1205.8 76.8H2055.1M1205.8 159.82H2055.1M1205.8 242.84H2055.1M1205.8 325.86H2055.1M1205.8 408.88H2055.1M1205.8 491.9H2055.1M1205.8 574.92H2055.1" fill="none" stroke-width="1.82" stroke-dasharray="6.434 2.782" stroke="#008000" stroke-opacity="0.32"/>
<g class="flux30"><path class="errorbars" d="M1258.8 158V269.8M1331.1 376.3V481.5M1406.2 71.4V166.6M1487.4 369.5V458.7M1558.5 112.1V218.3M1709.8 195.3V301.7M1791.8 168.2V268.8M1861.3 204.9V304.9M1946.2 510.5V608.7M2016.2 243.9V340.9" stroke="#008000" stroke-width="3.4" fill="none"/><path d="M1258.8 207.85L1265.25 219.95H1252.35ZM1331.1 422.85L1337.55 434.95H1324.65ZM1406.2 112.95L1412.65 125.05H1399.75ZM1487.4 408.05L1493.85 420.15H1480.95ZM1558.5 159.15L1564.95 171.25H1552.05ZM1709.8 242.45L1716.25 254.55H1703.35ZM1791.8 212.45L1798.25 224.55H1785.35ZM1861.3 248.85L1867.75 260.95H1854.85ZM1946.2 553.55L1952.65 565.65H1939.75ZM2016.2 286.35L2022.65 298.45H2009.75Z" fill="#008000" stroke="#008000" stroke-width="1.6" stroke-linejoin="round"/></g>
<path class="grid-mag" d="M1205.8 118.09H2055.1M1205.8 191.98H2055.1M1205.8 265.87H2055.1M1205.8 339.76H2055.1M1205.8 413.65H2055.1M1205.8 487.54H2055.1M1205.8 561.43H2055.1" fill="none" stroke-width="1.82" stroke-dasharray="6.434 2.782" stroke="#808080" stroke-opacity="0.32"/>
<g class="wise"><path class="errorbars" d="M1244 353.8V544.8M1319.9 446.8V500.4M1395 158V243.8M1473.9 368.4V485M1546.1 122.5V229.1M1697.8 208.3V319.7M1780.4 195.4V348.4M1849.5 208.3V316.7M1934.4 286.5V395.3M2003.3 218.5V281.7" stroke="#0000ff" stroke-width="3.4" fill="none"/><path class="errorbars" d="M1244 406.3V430.5M1319.9 435.9V469.9M1395 227V261.2M1473.9 385V456.2M1546.1 112.1V144.5M1697.8 217.2V277.2M1780.4 165.9V207.9M1849.5 211.1V250.7M1934.4 352.9V384.1M2003.3 242V269.6" stroke="#ff0000" stroke-width="3.4" fill="none"/><g fill="#0000ff"><circle cx="1244" cy="449.3" r="7.1"/><circle cx="1319.9" cy="473.6" r="7.1"/><circle cx="1395" cy="200.9" r="7.1"/><circle cx="1473.9" cy="426.7" r="7.1"/><circle cx="1546.1" cy="175.8" r="7.1"/><circle cx="1697.8" cy="264" r="7.1"/><circle cx="1780.4" cy="271.9" r="7.1"/><circle cx="1849.5" cy="262.5" r="7.1"/><circle cx="1934.4" cy="340.9" r="7.1"/><circle cx="2003.3" cy="250.1" r="7.1"/></g><g fill="#ff0000"><circle cx="1244" cy="418.4" r="7.1"/><circle cx="1319.9" cy="452.9" r="7.1"/><circle cx="1395" cy="244.1" r="7.1"/><circle cx="1473.9" cy="420.6" r="7.1"/><circle cx="1546.1" cy="128.3" r="7.1"/><circle cx="1697.8" cy="247.2" r="7.1"/><circle cx="1780.4" cy="186.9" r="7.1"/><circle cx="1849.5" cy="230.9" r="7.1"/><circle cx="1934.4" cy="368.5" r="7.1"/><circle cx="2003.3" cy="255.8" r="7.1"/></g></g>
<rect x="1205.8" y="44.2" width="849.3" height="591.1" fill="none" stroke="#000" stroke-width="1.92"/>
<path class="ticks" d="M1270.1 635.3v7.67M1375.23 635.3v7.67M1480.36 635.3v7.67M1585.49 635.3v7.67M1690.62 635.3v7.67M1795.75 635.3v7.67M1900.88 635.3v7.67M2006.01 635.3v7.67M1280.5 44.2v-7.67M1436.6 44.2v-7.67M1592.7 44.2v-7.67M1748.8 44.2v-7.67M1904.9 44.2v-7.67M1205.8 76.8h-7.67M1205.8 159.82h-7.67M1205.8 242.84h-7.67M1205.8 325.86h-7.67M1205.8 408.88h-7.67M1205.8 491.9h-7.67M1205.8 574.92h-7.67M2055.1 44.2h7.67M2055.1 118.09h7.67M2055.1 191.98h7.67M2055.1 265.87h7.67M2055.1 339.76h7.67M2055.1 413.65h7.67M2055.1 487.54h7.67M2055.1 561.43h7.67M2055.1 635.32h7.67" stroke="#000" stroke-width="1.92" fill="none"/>
<g class="ticklabels" font-family='"DejaVu Sans", "Liberation Sans", sans-serif' font-size="22.06" fill="#000">
<text transform="translate(1270.1 667.3) rotate(0.03)" text-anchor="middle">57000</text>
<text transform="translate(1375.23 667.3) rotate(0.03)" text-anchor="middle">57250</text>
<text transform="translate(1480.36 667.3) rotate(0.03)" text-anchor="middle">57500</text>
<text transform="translate(1585.49 667.3) rotate(0.03)" text-anchor="middle">57750</text>
<text transform="translate(1690.62 667.3) rotate(0.03)" text-anchor="middle">58000</text>
<text transform="translate(1795.75 667.3) rotate(0.03)" text-anchor="middle">58250</text>
<text transform="translate(1900.88 667.3) rotate(0.03)" text-anchor="middle">58500</text>
<text transform="translate(2006.01 667.3) rotate(0.03)" text-anchor="middle">58750</text>
<text transform="translate(1280.5 24.85) rotate(0.03)" text-anchor="middle">2015</text>
<text transform="translate(1436.6 24.85) rotate(0.03)" text-anchor="middle">2016</text>
<text transform="translate(1592.7 24.85) rotate(0.03)" text-anchor="middle">2017</text>
<text transform="translate(1748.8 24.85) rotate(0.03)" text-anchor="middle">2018</text>
<text transform="translate(1904.9 24.85) rotate(0.03)" text-anchor="middle">2019</text>
<text transform="translate(1190.4 85.2) rotate(0.03)" text-anchor="end">2.0</text>
<text transform="translate(1190.4 168.22) rotate(0.03)" text-anchor="end">1.5</text>
<text transform="translate(1190.4 251.24) rotate(0.03)" text-anchor="end">1.0</text>
<text transform="translate(1190.4 334.26) rotate(0.03)" text-anchor="end">0.5</text>
<text transform="translate(1190.4 417.28) rotate(0.03)" text-anchor="end">0.0</text>
<text transform="translate(1190.4 500.3) rotate(0.03)" text-anchor="end">−0.5</text>
<text transform="translate(1190.4 583.32) rotate(0.03)" text-anchor="end">−1.0</text>
<text transform="translate(2069.9 52.6) rotate(0.03)" text-anchor="start">11.6</text>
<text transform="translate(2069.9 126.49) rotate(0.03)" text-anchor="start">11.7</text>
<text transform="translate(2069.9 200.38) rotate(0.03)" text-anchor="start">11.8</text>
<text transform="translate(2069.9 274.27) rotate(0.03)" text-anchor="start">11.9</text>
<text transform="translate(2069.9 348.16) rotate(0.03)" text-anchor="start">12.0</text>
<text transform="translate(2069.9 422.05) rotate(0.03)" text-anchor="start">12.1</text>
<text transform="translate(2069.9 495.94) rotate(0.03)" text-anchor="start">12.2</text>
<text transform="translate(2069.9 569.83) rotate(0.03)" text-anchor="start">12.3</text>
<text transform="translate(2069.9 643.72) rotate(0.03)" text-anchor="start">12.4</text>
</g>
<g class="axislabels" font-family='"DejaVu Serif", "Liberation Serif", serif' font-size="43.81" fill="#000" text-anchor="middle">
<text transform="translate(1630.1 713.7) rotate(0.03) scale(0.995 1)">MJD [days]</text>
<text transform="translate(1119.3 339.95) rotate(-89.97) scale(0.9927 1)">Integ. Flux Density [Jy*km/s]</text>
<text transform="translate(2160.5 339.95) rotate(-89.97) scale(0.9927 1)">Magnitude [mag]</text>
</g>
<g class="legend"><path class="errorbars" d="M1680 52.7V78.7" stroke="#008000" stroke-width="3.4" fill="none"/><path d="M1680 59.05L1687.1 72.36H1672.9Z" fill="#008000" stroke="#008000" stroke-width="1.6" stroke-linejoin="round"/>
<path class="errorbars" d="M1680 90.9V116.9" stroke="#0000ff" stroke-width="3.4" fill="none"/><g fill="#0000ff"><circle cx="1680" cy="103.9" r="7.1"/></g>
<path class="errorbars" d="M1680 129.1V155.1" stroke="#ff0000" stroke-width="3.4" fill="none"/><g fill="#ff0000"><circle cx="1680" cy="142.1" r="7.1"/></g>
<g font-family='"DejaVu Sans", "Liberation Sans", sans-serif' font-size="26.3" fill="#000">
<text transform="translate(1726.8 74.8) rotate(0.03) scale(0.995 1)">Subtracted flux+30days</text>
<text transform="translate(1726.8 113) rotate(0.03) scale(0.995 1)">W1</text>
<text transform="translate(1726.8 151.2) rotate(0.03) scale(0.995 1)">W2+3.2mag</text>
</g></g>
</g>
</svg></body></html>
